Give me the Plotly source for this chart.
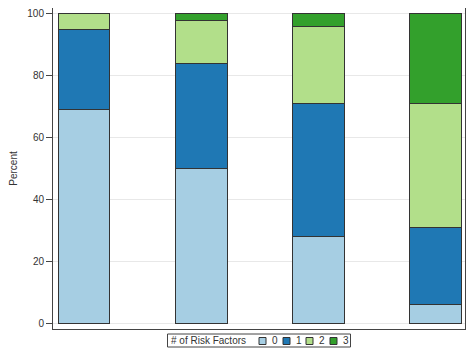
import plotly.graph_objects as go

categories = [0, 1, 2, 3]
series_names = ["0", "1", "2", "3"]
pct_rf0 = [69, 50, 28, 6]
pct_rf1 = [26, 34, 43, 25]
pct_rf2 = [5, 14, 25, 40]
pct_rf3 = [0, 2, 4, 29]
colors = ["#a6cee3", "#1f78b4", "#b2df8a", "#33a02c"]
y_ticks = [0, 20, 40, 60, 80, 100]
legend_title = "# of Risk Factors"

# page has an 8px body margin; figure is sized to fit the 474x355 window
OFF = 8
W, H = 474 - OFF, 355 - OFF
L, R, T, B = 53 - OFF, 9, 8 - OFF, 26
pw, ph = W - L - R, H - T - B


def px(xp):  # window pixel -> paper x
    return (xp - OFF - L) / pw


def py(yp):  # window pixel -> paper y
    return (H - B - (yp - OFF)) / ph


fig = go.Figure()
for name, vals, col in zip(series_names, [pct_rf0, pct_rf1, pct_rf2, pct_rf3], colors):
    fig.add_trace(go.Bar(x=categories, y=vals, name=name, width=0.444,
                         marker=dict(color=col, line=dict(color="#333333", width=1))))

# compact legend
shapes = [dict(type="rect", xref="paper", yref="paper",
               x0=px(167.5), x1=px(350.5), y0=py(334), y1=py(347),
               line=dict(color="#444444", width=1), fillcolor="white")]
annotations = [dict(text=legend_title, xref="paper", yref="paper", x=px(169), y=py(340.5),
                    xanchor="left", yanchor="middle", showarrow=False,
                    font=dict(size=10, color="#333333"))]
sq_centers = [262.5, 286.5, 309.5, 333.5]
for name, col, cx in zip(series_names, colors, sq_centers):
    shapes.append(dict(type="rect", xref="paper", yref="paper",
                       x0=px(cx - 3.5), x1=px(cx + 3.5), y0=py(337.5), y1=py(344.5),
                       line=dict(color="#333333", width=1), fillcolor=col))
    annotations.append(dict(text=name, xref="paper", yref="paper", x=px(cx + 7), y=py(340.5),
                            xanchor="left", yanchor="middle", showarrow=False,
                            font=dict(size=10, color="#333333")))

fig.update_layout(
    barmode="stack",
    width=W, height=H,
    margin=dict(l=L, r=R, t=T, b=B, pad=0),
    plot_bgcolor="white", paper_bgcolor="white",
    font=dict(family="Liberation Sans, Arial, sans-serif", size=10, color="#333333"),
    showlegend=False,
    shapes=shapes,
    annotations=annotations,
    xaxis=dict(range=[-0.265, 3.256], showticklabels=False, ticks="", showgrid=False,
               showline=True, linecolor="#444444", mirror=True, zeroline=False),
    yaxis=dict(range=[-1.85, 101.9], tickvals=y_ticks, ticks="outside", ticklen=6,
               tickcolor="#444444", showgrid=True, gridcolor="#e8e8e8", zeroline=False,
               showline=True, linecolor="#444444", mirror=True, automargin=False,
               title=dict(text="Percent", standoff=7, font=dict(size=10)),
               tickfont=dict(size=10)),
)
fig.write_html("out.html")
